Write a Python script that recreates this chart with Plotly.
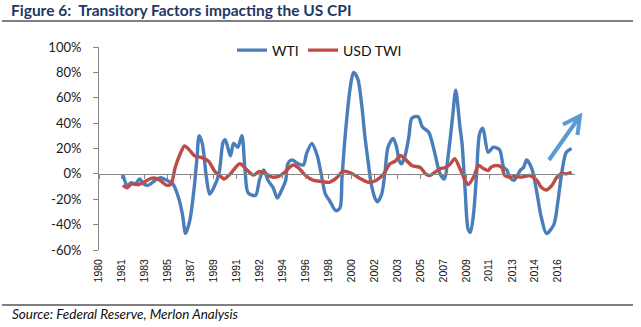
import pandas as pd
import plotly.graph_objects as go

# ---- data: year-on-year % change ----
WTI_DATES = [
    "1981-12", "1982-04", "1982-08", "1982-12", "1983-04", "1983-08", "1983-12",
    "1984-07", "1984-12", "1985-06", "1985-12", "1986-05", "1986-09", "1986-11",
    "1986-12", "1987-04", "1987-08", "1987-11", "1988-01", "1988-04", "1988-08",
    "1988-11", "1989-03", "1989-08", "1989-12", "1990-02", "1990-07", "1990-10",
    "1991-02", "1991-06", "1991-09", "1991-12", "1992-07", "1992-11", "1993-03",
    "1993-07", "1993-12", "1994-04", "1994-08", "1994-12", "1995-02", "1995-06",
    "1995-12", "1996-05", "1996-08", "1997-01", "1997-06", "1997-10", "1998-02",
    "1998-06", "1998-12", "1999-04", "1999-06", "1999-09", "2000-02", "2000-05",
    "2000-09", "2001-01", "2001-04", "2001-07", "2001-10", "2002-02", "2002-04",
    "2002-08", "2002-11", "2003-02", "2003-07", "2003-10", "2004-01", "2004-03",
    "2004-06", "2004-10", "2005-01", "2005-07", "2005-11", "2006-05", "2006-08",
    "2006-11", "2007-04", "2007-08", "2007-12", "2008-04", "2008-07", "2008-11",
    "2009-01", "2009-04", "2009-07", "2009-09", "2009-12", "2010-03", "2010-06",
    "2010-09", "2011-02", "2011-07", "2012-01", "2012-05", "2012-08", "2012-11",
    "2013-03", "2013-09", "2013-12", "2014-03", "2014-08", "2015-01", "2015-05",
    "2015-10", "2016-05", "2016-09", "2017-01", "2017-05", "2017-10",
]
WTI_VALUES = [
    -1, -9, -7, -8, -4, -8, -9,
    -5, -3, -5, -8, -18, -32, -44,
    -47, -37, -13, 13, 30, 24, -3,
    -16, -11, 0, 25, 27, 14, 24,
    21, 30, 3, -15, -17, -4, 3,
    -5, -11, -19, -13, -5, 8, 11,
    8, 7, 16, 24, 15, 0, -16,
    -21, -29, -27, -3, 30, 69, 80,
    75, 53, 29, 10, -8, -20, -22,
    -16, 0, 21, 28, 22, 10, 8,
    13, 29, 44, 45, 37, 33, 26,
    16, 0, -4, 16, 45, 66, 37,
    24, -13, -44, -46, -32, 0, 32,
    36, 17, 21, 19, 5, 3, -3,
    -5, 3, 5, 11, 4, -16, -34,
    -47, -40, -21, 3, 17, 20,
]

USD_DATES = [
    "1981-12", "1982-04", "1982-08", "1983-03", "1983-09", "1984-03", "1984-08",
    "1985-01", "1985-06", "1985-10", "1986-02", "1986-07", "1986-11", "1987-04",
    "1987-09", "1988-03", "1988-10", "1989-04", "1989-11", "1990-01", "1990-07",
    "1991-04", "1991-11", "1992-05", "1992-11", "1993-04", "1993-11", "1994-05",
    "1994-11", "1995-07", "1995-12", "1996-07", "1997-02", "1997-11", "1998-06",
    "1999-01", "1999-07", "2000-03", "2000-10", "2001-07", "2002-03", "2002-10",
    "2003-04", "2003-09", "2004-02", "2004-06", "2005-01", "2005-09", "2006-02",
    "2006-06", "2006-11", "2007-04", "2007-09", "2008-02", "2008-06", "2008-11",
    "2009-04", "2009-07", "2009-12", "2010-05", "2010-09", "2011-02", "2011-05",
    "2011-10", "2012-03", "2012-06", "2012-11", "2013-04", "2013-10", "2014-06",
    "2015-01", "2015-05", "2015-10", "2016-03", "2016-08", "2017-01", "2017-05",
    "2017-10",
]
USD_VALUES = [
    -9, -11, -8, -8.5, -6, -3.5, -3.5,
    -6, -9, -8, 5, 16, 22, 18.5,
    14, 13, 10, 2, -3, -4, 0,
    8, 3, -1, 2, 0.5, -2.6, -2,
    1.3, 7, 5, -1.3, -5, -6, -6.6,
    -3, 2, 0.5, -3, -6.6, -5, 0,
    8, 10, 14.5, 12, 6.6, 5, 0,
    -1.3, 1.3, 4, 5, 8, 12, 4,
    -5, -8.5, -2.6, 6.6, 4.5, 2.6, 5.3,
    6.6, 5.3, -1.3, -2.6, -2, -2.6, -1.3,
    -5.3, -10.6, -12.7, -9.3, -2.6, 0.5, 0,
    1.3,
]

TICK_YEARS = ["1980", "1981", "1983", "1985", "1987", "1989", "1991", "1992",
              "1994", "1996", "1998", "2000", "2002", "2003", "2005", "2007",
              "2009", "2011", "2013", "2014", "2016"]
Y_TICKS = [-60, -40, -20, 0, 20, 40, 60, 80, 100]
Y_TICK_LABELS = ["-60%", "-40%", "-20%", "0%", "20%", "40%", "60%", "80%", "100%"]

SERIES_NAMES = ["WTI", "USD TWI"]
TITLE = "Figure 6:\u00a0 Transitory Factors impacting the US CPI"
SOURCE = "Source: Federal Reserve, Merlon Analysis"

# ---- layout geometry ----
W, H = 641, 327
ML, MR, MT, MB = 99, 66, 47, 77
PW, PH = W - ML - MR, H - MT - MB


def px_x(px):
    return (px - ML) / PW


def px_y(py):
    return (H - MB - py) / PH


# category ticks every 22 months from Jan 1980
tick_dates = pd.date_range("1980-01-01", periods=len(TICK_YEARS), freq="22MS")
tick_vals = [d.strftime("%Y-%m-%d") for d in tick_dates]

BLUE = "#4A7EBB"
RED = "#BE4B48"
GRID = "#868686"
FONT = "Lato"

fig = go.Figure()
fig.add_trace(go.Scatter(
    x=pd.to_datetime(WTI_DATES), y=WTI_VALUES, name=SERIES_NAMES[0],
    mode="lines", line=dict(color=BLUE, width=3.4, shape="spline", smoothing=0.8),
    xaxis="x", yaxis="y", legend="legend",
))
fig.add_trace(go.Scatter(
    x=pd.to_datetime(USD_DATES), y=USD_VALUES, name=SERIES_NAMES[1],
    mode="lines", line=dict(color=RED, width=3.4, shape="spline", smoothing=0.8),
    xaxis="x2", yaxis="y", legend="legend2",
))

x_range = ["1980-01-01", "2018-01-10"]


def legend_at(px):
    return dict(
        orientation="h", x=px_x(px), xanchor="left", y=px_y(50.5), yanchor="middle",
        font=dict(family=FONT, size=14, color="#111111"),
        bgcolor="rgba(0,0,0,0)", borderwidth=0, itemwidth=30,
    )


fig.update_layout(
    width=W, height=H,
    margin=dict(l=ML, r=MR, t=MT, b=MB, pad=0),
    paper_bgcolor="white", plot_bgcolor="white",
    font=dict(family=FONT, size=12, color="#1a1a1a"),
    showlegend=True,
    legend=legend_at(232),
    legend2=legend_at(303),
    xaxis=dict(
        type="date", range=x_range,
        tickmode="array", tickvals=tick_vals, ticktext=TICK_YEARS,
        tickangle=-90, ticks="", showline=False, showgrid=False, zeroline=False,
        tickfont=dict(family="Liberation Sans", size=10.5, color="#111111"),
        ticklabelstandoff=6,
    ),
    xaxis2=dict(
        type="date", matches="x", overlaying="x", anchor="free", position=0.375,
        tickmode="array", tickvals=tick_vals, showticklabels=False,
        ticks="outside", ticklen=4, tickcolor=GRID, tickwidth=1,
        showline=True, linecolor=GRID, linewidth=1, showgrid=False, zeroline=False,
    ),
    yaxis=dict(
        range=[-60, 100], tickmode="array", tickvals=Y_TICKS, ticktext=Y_TICK_LABELS,
        showgrid=False, zeroline=False,
        showline=True, linecolor=GRID, linewidth=1,
        ticks="outside", ticklen=5, tickcolor=GRID,
        tickfont=dict(family=FONT, size=13, color="#1a1a1a"),
        ticklabelstandoff=9,
    ),
)

# title, rules and source note
fig.add_annotation(
    text="<b>" + TITLE + "</b>", xref="paper", yref="paper",
    x=px_x(9), y=px_y(10.5), xanchor="left", yanchor="middle", showarrow=False,
    font=dict(family=FONT, size=15.5, color="#1F3864"),
)
fig.add_annotation(
    text="<i>" + SOURCE + "</i>", xref="paper", yref="paper",
    x=px_x(10), y=px_y(314), xanchor="left", yanchor="middle", showarrow=False,
    font=dict(family=FONT, size=13.5, color="#111111"),
)
for y_px in (21, 305):
    fig.add_shape(type="line", xref="paper", yref="paper",
                  x0=px_x(2), x1=px_x(633), y0=px_y(y_px), y1=px_y(y_px),
                  line=dict(color="black", width=1))

# upward arrow hinting at the latest trend
tail, tip = (549, 160), (580, 116)
wing_a, wing_b = (563, 124.5), (577.5, 135)
path = (f"M{px_x(tail[0])},{px_y(tail[1])} L{px_x(tip[0])},{px_y(tip[1])} "
        f"M{px_x(wing_a[0])},{px_y(wing_a[1])} L{px_x(tip[0])},{px_y(tip[1])} "
        f"L{px_x(wing_b[0])},{px_y(wing_b[1])}")
fig.add_shape(type="path", xref="paper", yref="paper", path=path,
              line=dict(color="#5B9BD5", width=4))

fig.write_html("out.html")
